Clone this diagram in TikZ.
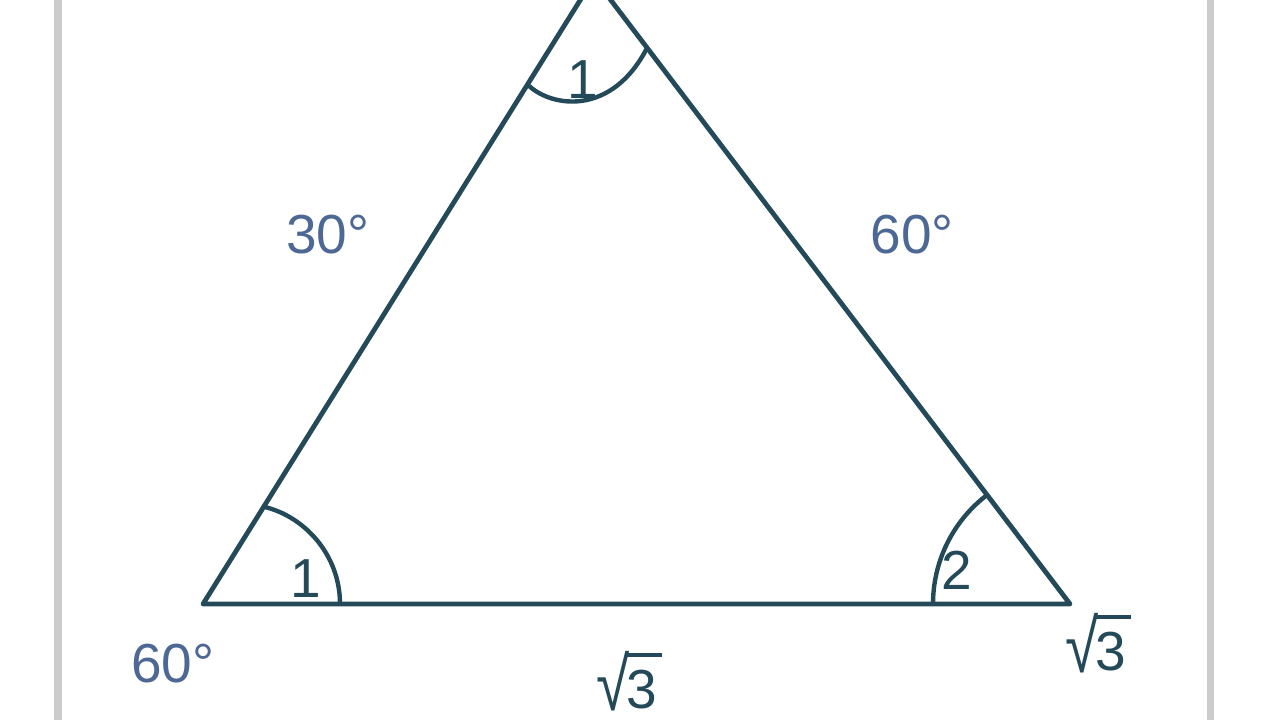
\documentclass[tikz,border=0pt]{standalone}
\usepackage{fontspec}
\setmainfont{Liberation Sans}
\definecolor{edge}{HTML}{244A5A}
\definecolor{deg}{HTML}{4D6894}
\definecolor{frame}{HTML}{CCCCCC}
\newcommand{\rootthree}{\mbox{\raisebox{-0.04em}{\scalebox{1.1}[1.36]{√}}\kern-0.06em\rlap{\rule[0.93em]{0.64em}{0.07em}}3}}
\tikzset{
  side/.style={line width=2.4pt,draw=edge,line join=round},
  mark arc/.style={line width=2.2pt,draw=edge},
  lab/.style={inner sep=0pt,anchor=base,font=\fontsize{27.5}{32}\selectfont},
}
\begin{document}
\begin{tikzpicture}[x=0.5pt,y=0.5pt]
\useasboundingbox (0,0) rectangle (1280,720);

\draw[frame,line width=4pt] (58,0) -- (58,720);
\draw[frame,line width=3.5pt] (1210,0) -- (1210,720);

\coordinate (a) at (203,116);
\coordinate (b) at (1070,116);
\coordinate (c) at (594,742);
\draw[side] (a) -- (b) -- (c) -- cycle;

% angle marks
\draw[mark arc] (340,116) .. controls (340,165) and (305,203) .. (265,213);
\draw[mark arc] (933,116) arc (180:128:137);
\draw[mark arc] (528,635) .. controls (552,612) and (612,604) .. (647,672);

\node[lab,text=edge] (n1) at (583,622) {1};
\node[lab,text=edge] (n2) at (306,123) {1};
\node[lab,text=edge] (n3) at (957,131) {2};
\node[lab,text=deg] (d1) at (328,467) {30°};
\node[lab,text=deg] (d2) at (912,467) {60°};
\node[lab,text=deg] (d3) at (173,38) {60°};
\node[lab,text=edge] (r1) at (627,12) {\rootthree};
\node[lab,text=edge] (r2) at (1096,50) {\rootthree};
\end{tikzpicture}
\end{document}
